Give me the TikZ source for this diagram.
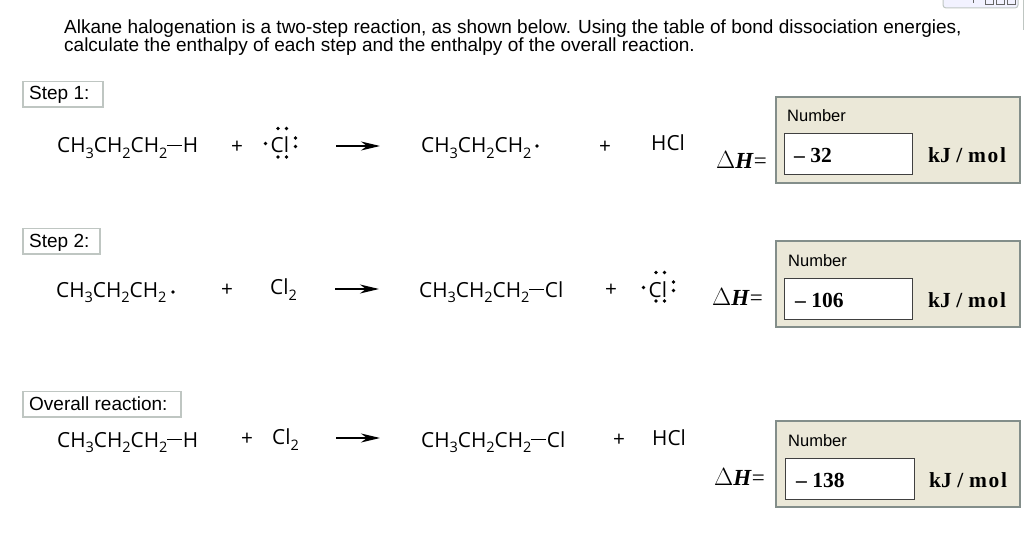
\documentclass[tikz,border=0pt]{standalone}
\usepackage{fontspec}
\usetikzlibrary{arrows.meta}
\setmainfont{Liberation Sans}
\newfontfamily\chemfont{Open Sans}
\newfontfamily\numfont{Liberation Serif}
\definecolor{panelfill}{HTML}{EBE8D8}
\definecolor{paneledge}{HTML}{838E8A}
\definecolor{tagedge}{HTML}{BFC6C2}
\newcommand{\chemsub}[1]{\raisebox{-0.28em}{\fontsize{14.5}{14.5}\selectfont #1}}
\newcommand{\chain}{CH\chemsub{3}CH\chemsub{2}CH\chemsub{2}}
\newcommand{\bondline}{\rule[0.33em]{0.72em}{0.075em}\kern0.02em}
\tikzset{
  x=1pt,y=-1pt,
  prose/.style={anchor=base west,inner sep=0pt,font=\fontsize{19}{19}\selectfont},
  chem/.style={anchor=base west,inner sep=0pt,font=\chemfont\fontsize{20.8}{20.8}\selectfont},
  tag/.style={draw=tagedge,line width=1.6pt,fill=white},
  tagtext/.style={anchor=base west,inner sep=0pt,font=\fontsize{19}{19}\selectfont},
  panel/.style={draw=paneledge,line width=2.6pt,fill=panelfill},
  inbox/.style={draw=black!75,line width=1pt,fill=white},
  numlabel/.style={anchor=base west,inner sep=0pt,font=\fontsize{16.5}{16.5}\selectfont},
  val/.style={anchor=base west,inner sep=0pt,font=\numfont\bfseries\fontsize{21.5}{21.5}\selectfont},
  unit/.style={anchor=base west,inner sep=0pt,font=\numfont\bfseries\fontsize{21.5}{21.5}\selectfont},
  dh/.style={anchor=base west,inner sep=0pt,font=\numfont\fontsize{23}{23}\selectfont},
  rxn/.style={-{Stealth[length=19pt,width=9pt,inset=6pt]},line width=1.1pt},
}
\newcommand{\clrad}[3]{% name, x of the Cl, baseline y
  \node[chem] (#1) at (#2-1.5,#3) {Cl};
  \fill (#2-6.5,#3-9.5) circle (1.9);
  \fill (#2+6,#3-24.5) circle (1.8) (#2+14.5,#3-24.5) circle (1.8);
  \fill (#2+6,#3+4) circle (1.8) (#2+14.5,#3+4) circle (1.8);
  \fill (#2+23.5,#3-15) circle (1.8) (#2+23.5,#3-6.5) circle (1.8);
}
\newcommand{\unittext}{kJ\hspace{0.26em}/\hspace{0.26em}m\hspace{0.08em}o\hspace{0.08em}l}
\newcommand{\dhtext}{$\Delta$\textbf{\textit{H}}=}
\begin{document}
\begin{tikzpicture}
\useasboundingbox (0,0) rectangle (1024,540);
\fill[white] (0,0) rectangle (1024,540);

% corner of the page
\draw[tagedge,line width=1pt,rounded corners=3pt,fill=white!95!blue] (943,-6) rectangle (1018,8);
\draw[black!60,line width=0.8pt] (985,-2) rectangle (993,4) (996,-2) rectangle (1004,4) (1007,-2) rectangle (1015,4);
\draw[black!60,line width=0.8pt] (973,0) -- (973,3);
\draw[tagedge,line width=1pt] (1023,0) -- (1023,30);

% prose
\node[prose] (q1) at (64,34) {Alkane halogenation is a two-step reaction, as shown below. Using the table of bond dissociation energies,};
\node[prose] (q2) at (64,52) {calculate the enthalpy of each step and the enthalpy of the overall reaction.};

% tags
\draw[tag] (23,81.5) rectangle (103,107);
\node[tagtext] (t1) at (29,100) {Step 1:};
\draw[tag] (23,228.5) rectangle (100,254);
\node[tagtext] (t2) at (29,247) {Step 2:};
\draw[tag] (23,391.5) rectangle (181,417);
\node[tagtext] (t3) at (29,410) {Overall reaction:};

% step 1
\node[chem] (a1) at (57,153) {\chain\bondline H};
\node[chem] (a2) at (231,153.5) {+};
\clrad{a3}{272}{153}
\coordinate (a4s) at (336,146); \coordinate (a4e) at (380,146);
\draw[rxn] (a4s) -- (a4e);
\node[chem] (a5) at (421,153) {\chain};
\fill (537,146) circle (1.8);
\node[chem] (a6) at (599,153.5) {+};
\node[chem] (a7) at (651,151) {HCl};
\node[dh] (a8) at (716,168) {\dhtext};

% step 2
\node[chem] (b1) at (56,297) {\chain};
\fill (173,292) circle (1.9);
\node[chem] (b2) at (221,296) {+};
\node[chem] (b3) at (270,294.5) {Cl\chemsub{2}};
\coordinate (b4s) at (335,289); \coordinate (b4e) at (379,289);
\draw[rxn] (b4s) -- (b4e);
\node[chem] (b5) at (419,297) {\chain\bondline Cl};
\node[chem] (b6) at (605,296) {+};
\clrad{b7}{650}{297}
\node[dh] (b8) at (712,305) {\dhtext};

% overall
\node[chem] (c1) at (57,447) {\chain\bondline H};
\node[chem] (c2) at (241,445) {+};
\node[chem] (c3) at (272,444.5) {Cl\chemsub{2}};
\coordinate (c4s) at (336,438); \coordinate (c4e) at (380,438);
\draw[rxn] (c4s) -- (c4e);
\node[chem] (c5) at (421,447) {\chain\bondline Cl};
\node[chem] (c6) at (613,446) {+};
\node[chem] (c7) at (652,445) {HCl};
\node[dh] (c8) at (714,485) {\dhtext};

% answer panels
\draw[panel] (776,97) rectangle (1020,183);
\node[numlabel] (n1) at (787,122) {Number};
\draw[inbox] (784,133.5) rectangle (912,174.5);
\node[val] (v1) at (794,163) {– 32};
\node[unit] (u1) at (928,163) {\unittext};

\draw[panel] (776,241) rectangle (1020,327);
\node[numlabel] (n2) at (788,266) {Number};
\draw[inbox] (784,278) rectangle (912,319);
\node[val] (v2) at (795,307) {– 106};
\node[unit] (u2) at (928,307) {\unittext};

\draw[panel] (776,421) rectangle (1020,507);
\node[numlabel] (n3) at (788,446) {Number};
\draw[inbox] (785,458) rectangle (914,499);
\node[val] (v3) at (796,487) {– 138};
\node[unit] (u3) at (929,487) {\unittext};
\end{tikzpicture}
\end{document}
